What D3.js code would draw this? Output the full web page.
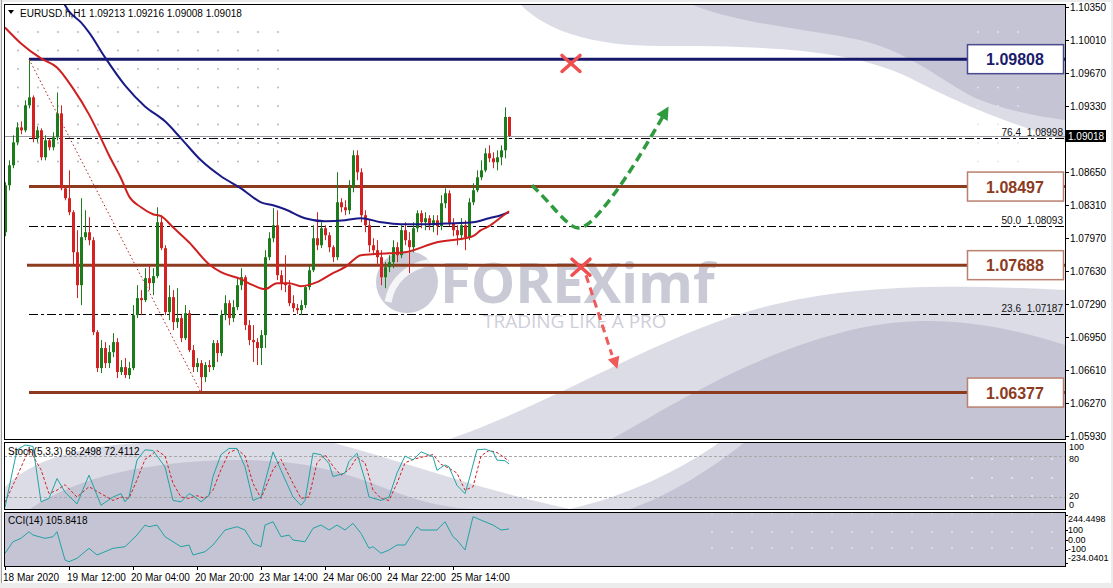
<!DOCTYPE html>
<html><head><meta charset="utf-8">
<script src="https://cdn.jsdelivr.net/npm/d3@7"></script>
<style>body{margin:0;background:#fff;}svg{display:block;font-family:"Liberation Sans",Arial,sans-serif;}</style>
</head><body><svg id="c" width="1113" height="588"></svg>
<script>
// ---------- DATA ----------
const opens = [1.08027,1.08510,1.08716,1.08952,1.09106,1.09076,1.09333,1.09415,1.08993,1.09076,
1.08798,1.08973,1.08901,1.09004,1.09250,1.08479,1.08377,1.08233,1.07821,1.07482,
1.07976,1.08027,1.07945,1.06999,1.06629,1.06835,1.06680,1.06793,1.06896,1.06588,
1.06639,1.06557,1.06629,1.07174,1.07349,1.07328,1.07554,1.07503,1.07575,1.08130,
1.07863,1.07205,1.07359,1.07102,1.07143,1.06937,1.07194,1.06814,1.06639,1.06680,
1.06536,1.06660,1.06639,1.06886,1.06783,1.07174,1.07297,1.07143,1.07256,1.07482,
1.07564,1.07071,1.06917,1.06896,1.06835,1.06968,1.07770,1.07965,1.08099,1.07585,
1.07503,1.07482,1.07297,1.07246,1.07225,1.07277,1.07462,1.07636,1.07965,1.07893,
1.08068,1.07996,1.07873,1.07770,1.08335,1.08284,1.08253,1.08490,1.08819,1.08644,
1.08202,1.08099,1.07893,1.07842,1.07770,1.07564,1.07667,1.07719,1.07873,1.07791,
1.08048,1.07945,1.07873,1.08068,1.08222,1.08130,1.08171,1.08099,1.08150,1.08089,
1.08325,1.08428,1.08120,1.08048,1.07996,1.08099,1.07976,1.08335,1.08459,1.08592,
1.08664,1.08839,1.08788,1.08747,1.08798,1.08870,1.09213];
const closes = [1.08510,1.08716,1.08952,1.09106,1.09076,1.09333,1.09415,1.08993,1.09076,1.08798,
1.08973,1.08901,1.09004,1.09250,1.08479,1.08377,1.08233,1.07821,1.07482,1.07976,
1.08027,1.07945,1.06999,1.06629,1.06835,1.06680,1.06793,1.06896,1.06588,1.06639,
1.06557,1.06629,1.07174,1.07349,1.07328,1.07554,1.07503,1.07575,1.08130,1.07863,
1.07205,1.07359,1.07102,1.07143,1.06937,1.07194,1.06814,1.06639,1.06680,1.06536,
1.06660,1.06639,1.06886,1.06783,1.07174,1.07297,1.07143,1.07256,1.07482,1.07564,
1.07071,1.06917,1.06896,1.06835,1.06968,1.07770,1.07965,1.08099,1.07585,1.07503,
1.07482,1.07297,1.07246,1.07225,1.07277,1.07462,1.07636,1.07965,1.07893,1.08068,
1.07996,1.07873,1.07770,1.08335,1.08284,1.08253,1.08490,1.08819,1.08644,1.08202,
1.08099,1.07893,1.07842,1.07770,1.07564,1.07667,1.07719,1.07873,1.07791,1.08048,
1.07945,1.07873,1.08068,1.08222,1.08130,1.08171,1.08099,1.08150,1.08089,1.08325,
1.08428,1.08120,1.08048,1.07996,1.08099,1.07976,1.08335,1.08459,1.08592,1.08664,
1.08839,1.08788,1.08747,1.08798,1.08870,1.09213,1.09018];
const highs = [1.08541,1.08767,1.09024,1.09158,1.09168,1.09384,1.09808,1.09435,1.09117,1.09096,
1.09024,1.08993,1.09055,1.09466,1.09333,1.08510,1.08664,1.08253,1.08048,1.08377,
1.08253,1.08181,1.07976,1.07020,1.06917,1.06896,1.06865,1.06989,1.06937,1.06711,
1.06732,1.06691,1.07277,1.07482,1.07431,1.07657,1.07688,1.07657,1.08284,1.08202,
1.07893,1.07482,1.07431,1.07451,1.07174,1.07277,1.07225,1.06865,1.06732,1.06711,
1.06691,1.06711,1.06917,1.06917,1.07225,1.07379,1.07328,1.07328,1.07554,1.07657,
1.07585,1.07122,1.07071,1.06937,1.07020,1.07842,1.08027,1.08274,1.08253,1.07636,
1.07791,1.07534,1.07379,1.07287,1.07328,1.07482,1.07688,1.08099,1.08233,1.08130,
1.08099,1.08027,1.07893,1.08644,1.08377,1.08356,1.08562,1.08870,1.08870,1.08685,
1.08253,1.08150,1.07965,1.07945,1.07842,1.07719,1.07791,1.07945,1.07924,1.08099,
1.08130,1.08027,1.08130,1.08253,1.08253,1.08233,1.08202,1.08202,1.08202,1.08407,
1.08479,1.08459,1.08171,1.08099,1.08171,1.08150,1.08377,1.08531,1.08664,1.08767,
1.08891,1.08921,1.08849,1.08870,1.08921,1.09312,1.09216];
const lows = [1.07986,1.08459,1.08685,1.08921,1.09035,1.09055,1.09302,1.08952,1.08952,1.08767,
1.08767,1.08870,1.08870,1.08973,1.08459,1.08356,1.08202,1.07688,1.07349,1.07277,
1.07945,1.07893,1.06968,1.06588,1.06578,1.06629,1.06629,1.06742,1.06526,1.06557,
1.06526,1.06516,1.06608,1.07143,1.07174,1.07307,1.07431,1.07379,1.07554,1.07842,
1.07174,1.07122,1.07020,1.07040,1.06896,1.06917,1.06793,1.06588,1.06588,1.06377,
1.06485,1.06588,1.06608,1.06691,1.06752,1.07122,1.07071,1.07102,1.07225,1.07431,
1.07020,1.06865,1.06691,1.06660,1.06660,1.06835,1.07739,1.07924,1.07534,1.07431,
1.07410,1.07266,1.07205,1.07184,1.07174,1.07246,1.07431,1.07616,1.07842,1.07863,
1.07945,1.07821,1.07719,1.07739,1.08233,1.08202,1.08212,1.08438,1.08562,1.08130,
1.08027,1.07821,1.07791,1.07688,1.07482,1.07451,1.07616,1.07657,1.07719,1.07760,
1.07893,1.07606,1.07821,1.08027,1.08068,1.08048,1.08048,1.08027,1.07996,1.08048,
1.08274,1.08089,1.07986,1.07893,1.07945,1.07842,1.07945,1.08305,1.08438,1.08562,
1.08644,1.08747,1.08685,1.08664,1.08716,1.08788,1.09008];

const maRedBars = [0,4,9,13,17,21,24,26,29,31,34,37,39,42,46,51,54,59,62,65,68,71,74,78,82,85,89,96,100,108,115,117,119,121,124,126];
const maRedValues = [1.10134,1.09970,1.09816,1.09723,1.09507,1.09240,1.08993,1.08819,1.08582,1.08397,1.08284,1.08212,1.08192,1.08078,1.07924,1.07698,1.07616,1.07544,1.07482,1.07441,1.07503,1.07503,1.07472,1.07513,1.07606,1.07667,1.07791,1.07811,1.07821,1.07924,1.07965,1.07986,1.08048,1.08089,1.08181,1.08243];
const maBlueBars = [12,14,16,19,21,25,30,35,40,44,49,54,59,64,67,70,75,80,85,89,94,99,106,112,117,121,124,126];
const maBlueValues = [1.10540,1.10430,1.10300,1.10186,1.10083,1.09826,1.09538,1.09322,1.09168,1.08993,1.08767,1.08603,1.08479,1.08335,1.08305,1.08263,1.08171,1.08140,1.08150,1.08171,1.08130,1.08109,1.08109,1.08120,1.08130,1.08171,1.08202,1.08233];

const stochBars = [0,3,5,7,9,11,13,15,18,21,24,27,29,30,31,33,35,37,40,42,44,46,47,49,51,52,54,56,58,60,62,64,67,69,72,74,75,77,79,81,82,85,86,88,90,91,94,96,98,100,102,104,107,108,110,111,113,115,116,118,120,122,123,125,126];
const stochMain = [5,89,96,94,13,18,47,27,10,52,8,20,25,13,20,74,89,88,64,15,13,25,22,13,22,50,82,91,91,64,15,20,86,59,20,8,15,84,82,69,50,55,72,84,45,20,15,20,55,80,74,86,79,59,67,64,37,25,45,89,90,86,74,73,68.2498];
const signalBars = [0,3,6,9,11,13,15,18,21,24,27,29,31,33,35,38,40,42,44,46,48,50,52,54,56,58,60,62,64,67,69,72,74,76,78,80,82,84,86,88,90,92,94,96,98,100,102,104,107,109,111,113,115,117,119,121,123,125,126];
const stochSignal = [12,50,90,60,25,30,38,20,35,25,15,20,18,45,75,88,80,40,20,18,22,18,30,60,85,90,80,40,18,60,75,40,18,20,70,82,65,52,60,78,70,30,18,15,40,70,75,78,82,68,62,55,30,35,80,88,85,77,72.4112];
const cciBars = [0,2,4,6,7,10,12,13,15,16,18,21,23,25,27,30,33,35,36,38,40,42,44,46,47,50,52,55,58,60,62,64,65,67,69,71,72,75,77,79,81,83,85,87,89,91,92,94,96,98,100,103,104,106,108,110,112,113,115,117,120,122,124,126];
const cciValues = [-138,-22,12,78,45,12,28,78,-205,-222,-188,-88,-155,-122,-88,-72,45,145,128,145,28,-22,-72,-55,-155,-122,-55,95,128,95,-38,-72,145,178,28,45,-5,-22,112,145,95,145,95,162,62,-88,-72,-138,-105,-55,-55,128,95,95,95,178,28,-5,-105,228,178,145,95,105.8418];

const priceTicks = [1.10350,1.10010,1.09670,1.09330,1.08650,1.08310,1.07970,1.07630,1.07290,1.06950,1.06610,1.06270,1.05930];
const timeTickBars = [0,16,32,48,64,80,96,112];
const timeTickLabels = ["18 Mar 2020","19 Mar 12:00","20 Mar 04:00","20 Mar 20:00","23 Mar 14:00","24 Mar 06:00","24 Mar 22:00","25 Mar 14:00"];
const stochTicks = [100,80,20,0];
const stochTickLabels = ["100","80","20","0"];
const stochLevels = [80,20];
const cciTicks = [244.4498,100,0,-100,-234.0401];
const cciTickLabels = ["244.4498","100","0.00","-100","-234.0401"];

const levels = [1.09808,1.08497,1.07688,1.06377];
const levelLabels = ["1.09808","1.08497","1.07688","1.06377"];
const levelStartBar = [6,6,5.5,6];
const fibLevels = [1.08998,1.08093,1.07187];
const fibLabels = ["76.4","50.0","23.6"];
const fibHigh = {bar:6, price:1.09808};
const fibLow = {bar:49, price:1.06377};
const lastPrice = 1.09018;
const headerText = "EURUSD.h,H1  1.09213 1.09216 1.09008 1.09018";
const stochText = "Stoch(5,3,3) 68.2498 72.4112";
const cciText = "CCI(14) 105.8418";

const greenPathBars = [131.75,135,138.25,141.25,143.25,145.75,148.75,151.75,154.75,158,161.25,164.5];
const greenPathPrices = [1.08510,1.08377,1.08222,1.08099,1.08058,1.08099,1.08233,1.08387,1.08562,1.08767,1.08993,1.09219];
const greenTip = [165.9,1.09322];
const redPathBars = [145.25,151.75];
const redPathPrices = [1.07585,1.06763];
const redTip = [153.1,1.06620];
const crossBars = [141.5,144];
const crossPrices = [1.09764,1.07667];

// ---------- LAYOUT / SCALES ----------
const svg = d3.select("#c");
const P = {l:4, r:1065, t:4, b:439};
const SP = {t:442, b:509};
const CP = {t:512, b:566};
const x = d3.scaleLinear().domain([0,265]).range([5,1065]);
const y = d3.scaleLinear().domain([1.0593,1.1035]).range([436,6.5]);
const ys = d3.scaleLinear().domain([0,100]).range([510.7,442.3]);
const yc = d3.scaleLinear().domain([-234.0401,244.4498]).range([562.9,515.1]);
const LIGHT = "#dcdce6", DARK = "#c4c4d4";
const GREEN = "#1c7c1c", RED = "#d42222";

svg.append("rect").attr("width",1113).attr("height",588).attr("fill","#ececec");
svg.append("rect").attr("x",2).attr("y",2).attr("width",1109).attr("height",581).attr("fill","#fff");
svg.append("line").attr("x1",1.5).attr("x2",1.5).attr("y1",0).attr("y2",583).attr("stroke","#a0a0a0");

const defs = svg.append("defs");
defs.append("clipPath").attr("id","cm").append("rect").attr("x",P.l+1).attr("y",P.t+1).attr("width",P.r-P.l-1).attr("height",P.b-P.t-1);
defs.append("clipPath").attr("id","cs").append("rect").attr("x",P.l+1).attr("y",SP.t+1).attr("width",P.r-P.l-1).attr("height",SP.b-SP.t-1);
defs.append("clipPath").attr("id","cc").append("rect").attr("x",P.l+1).attr("y",CP.t+1).attr("width",P.r-P.l-1).attr("height",CP.b-CP.t-1);

// ---------- MAIN PANEL ----------
const gm = svg.append("g").attr("clip-path","url(#cm)");
gm.append("path").attr("d","M520,4 C545,30 590,46 660,46 C760,46 850,48 910,78 C960,104 1010,124 1065,140 L1065,4 Z").attr("fill",LIGHT);
gm.append("path").attr("d","M690,4 C740,24 800,28 860,40 C910,52 940,80 975,98 C1005,110 1035,116 1065,120 L1065,4 Z").attr("fill",DARK);
gm.append("path").attr("d","M450,439 C560,400 660,335 760,308 C850,284 950,284 1065,290 L1065,439 Z").attr("fill",LIGHT);
gm.append("path").attr("d","M612,439 C680,400 760,350 860,328 C920,316 980,318 1065,345 L1065,439 Z").attr("fill",DARK);

// dot pattern
const dotRows = d3.range(8).map(k=>32+18.5*k);
dotRows.forEach(ry=>{
  d3.range(14).forEach(j=>gm.append("circle").attr("cx",18+20*j).attr("cy",ry).attr("r",0.9).attr("fill","#b0b0b8"));
  d3.range(3).forEach(j=>gm.append("circle").attr("cx",978+20*j).attr("cy",ry).attr("r",0.9).attr("fill","#e6e6ee"));
});

// watermark
const wm = gm.append("g");
wm.append("circle").attr("cx",407).attr("cy",282).attr("r",31).attr("fill","#a2a2b8").attr("opacity",0.55);
wm.append("path").attr("d","M388,302 C392,280 408,266 432,262").attr("stroke","#fff").attr("stroke-width",7).attr("fill","none").attr("opacity",0.8);
wm.append("text").attr("x",440).attr("y",303).attr("font-family","'Open Sans',sans-serif").attr("font-weight","bold").attr("font-size",56).attr("fill","#a0a0b6").attr("opacity",0.55).text("FOREXimf");
wm.append("text").attr("x",483).attr("y",328).attr("font-family","'Open Sans',sans-serif").attr("font-size",19).attr("fill","#c4c4d0").attr("opacity",0.8).text("TRADING LIKE A PRO");

// last price line
gm.append("line").attr("x1",P.l).attr("x2",P.r).attr("y1",Math.round(y(lastPrice))+0.5).attr("y2",Math.round(y(lastPrice))+0.5).attr("stroke","#9a9aa0");

// fib lines
fibLevels.forEach(v=>{
  gm.append("line").attr("x1",x(fibHigh.bar)).attr("x2",P.r).attr("y1",Math.round(y(v))+0.5).attr("y2",Math.round(y(v))+0.5)
    .attr("stroke","#000").attr("stroke-dasharray","9,3,3,3");
});
// level lines
levels.forEach((v,k)=>{
  gm.append("line").attr("x1",x(levelStartBar[k])).attr("x2",P.r).attr("y1",y(v)).attr("y2",y(v))
    .attr("stroke",k===0?"#18186a":"#8c3b1e").attr("stroke-width",3);
});

// candles
const bars = d3.range(closes.length).map(i=>({i,o:opens[i],h:highs[i],l:lows[i],c:closes[i]}));
gm.append("g").selectAll("line").data(bars).join("line")
  .attr("x1",d=>Math.round(x(d.i))+0.5).attr("x2",d=>Math.round(x(d.i))+0.5)
  .attr("y1",d=>y(d.h)).attr("y2",d=>y(d.l))
  .attr("stroke",d=>d.c>=d.o?GREEN:RED).attr("stroke-width",1);
gm.append("g").selectAll("rect").data(bars).join("rect")
  .attr("x",d=>Math.round(x(d.i))-1).attr("width",3)
  .attr("y",d=>y(Math.max(d.o,d.c))).attr("height",d=>Math.max(1,Math.abs(y(d.o)-y(d.c))))
  .attr("fill",d=>d.c>=d.o?GREEN:RED);

// moving averages
const ln = d3.line().x(d=>x(d[0])).y(d=>y(d[1])).curve(d3.curveMonotoneX);
gm.append("path").attr("d",ln(d3.zip(maBlueBars,maBlueValues))).attr("fill","none").attr("stroke","#1a1a86").attr("stroke-width",2);
gm.append("path").attr("d",ln(d3.zip(maRedBars,maRedValues))).attr("fill","none").attr("stroke","#cf2020").attr("stroke-width",2);

// fib diagonal
gm.append("line").attr("x1",x(fibHigh.bar)).attr("y1",y(fibHigh.price)).attr("x2",x(fibLow.bar)).attr("y2",y(fibLow.price))
  .attr("stroke","#b02020").attr("stroke-dasharray","1.5,2.5");

// annotations
function arrowHead(g, from, tip, color, size){
  const dx=tip[0]-from[0], dy=tip[1]-from[1], L=Math.hypot(dx,dy), ux=dx/L, uy=dy/L;
  const bx=tip[0]-ux*size, by=tip[1]-uy*size, px=-uy*size*0.5, py=ux*size*0.5;
  g.append("path").attr("d",`M${tip[0]},${tip[1]} L${bx+px},${by+py} L${bx-px},${by-py} Z`).attr("fill",color);
}
const gp = d3.zip(greenPathBars,greenPathPrices);
gm.append("path").attr("d",d3.line().x(d=>x(d[0])).y(d=>y(d[1])).curve(d3.curveBasis)(gp))
  .attr("fill","none").attr("stroke","#2f9b3f").attr("stroke-width",3.5).attr("stroke-dasharray","9,5");
arrowHead(gm,[x(gp[gp.length-2][0]),y(gp[gp.length-2][1])],[x(greenTip[0]),y(greenTip[1])],"#2f9b3f",13);
const rp = d3.zip(redPathBars,redPathPrices);
gm.append("path").attr("d",d3.line().x(d=>x(d[0])).y(d=>y(d[1]))(rp))
  .attr("fill","none").attr("stroke","#ef5a5a").attr("stroke-width",3).attr("stroke-dasharray","8,5");
arrowHead(gm,[x(rp[0][0]),y(rp[0][1])],[x(redTip[0]),y(redTip[1])],"#ef5a5a",12);
crossBars.forEach((b,k)=>{
  const cx=x(b), cy=y(crossPrices[k]);
  [[-9,-8,9,8],[-9,8,9,-8]].forEach(s=>gm.append("line").attr("x1",cx+s[0]).attr("y1",cy+s[1]).attr("x2",cx+s[2]).attr("y2",cy+s[3])
    .attr("stroke","#ef4f4f").attr("stroke-width",3.5).attr("stroke-linecap","round"));
});

// fib texts
fibLevels.forEach((v,k)=>{
  gm.append("text").attr("x",1021).attr("y",y(v)-2).attr("text-anchor","end").attr("font-size",10).attr("fill","#111").text(fibLabels[k]);
  gm.append("text").attr("x",1063).attr("y",y(v)-2).attr("text-anchor","end").attr("font-size",10).attr("fill","#111").text(d3.format(".5f")(v));
});

// level label boxes
levels.forEach((v,k)=>{
  const cy=y(v);
  gm.append("rect").attr("x",967.5).attr("y",cy-14.5).attr("width",96).attr("height",29).attr("fill","#fff")
    .attr("stroke",k===0?"#4a4a8e":"#b98070").attr("stroke-width",1.5);
  gm.append("text").attr("x",1015).attr("y",cy+6).attr("text-anchor","middle").attr("font-size",16).attr("font-weight","bold")
    .attr("fill",k===0?"#1c1c6c":"#8c3b1e").text(levelLabels[k]);
});

// header
svg.append("path").attr("d","M8,10 L14,10 L11,14 Z").attr("fill","#000");
svg.append("text").attr("x",20).attr("y",17).attr("font-size",10).attr("fill","#000").text(headerText);

// ---------- STOCH PANEL ----------
const gs = svg.append("g").attr("clip-path","url(#cs)");
gs.append("path").attr("d","M4,509 L4,488 C30,460 80,446 140,443 L330,442 C400,460 480,490 570,509 Z").attr("fill",LIGHT);
gs.append("path").attr("d","M30,509 C80,475 150,462 230,460 C300,459 340,470 390,490 C420,502 450,508 470,509 Z").attr("fill",DARK);
gs.append("path").attr("d","M720,442 C680,470 630,495 570,509 L1065,509 L1065,442 Z").attr("fill",LIGHT);
gs.append("path").attr("d","M745,442 C710,470 670,495 630,509 L1065,509 L1065,442 Z").attr("fill",DARK);
[459,478,496].forEach(ry=>d3.range(5).forEach(j=>gs.append("circle").attr("cx",972+20*j).attr("cy",ry).attr("r",1).attr("fill","#e8e8f0")));
stochLevels.forEach(v=>gs.append("line").attr("x1",P.l).attr("x2",P.r).attr("y1",Math.round(ys(v))+0.5).attr("y2",Math.round(ys(v))+0.5)
  .attr("stroke","#a8a8a8").attr("stroke-dasharray","3,2"));
const lns = d3.line().x(d=>x(d[0])).y(d=>ys(d[1]));
gs.append("path").attr("d",lns(d3.zip(signalBars,stochSignal))).attr("fill","none").attr("stroke","#d42020").attr("stroke-dasharray","3,2");
gs.append("path").attr("d",lns(d3.zip(stochBars,stochMain))).attr("fill","none").attr("stroke","#22a3a3");
svg.append("text").attr("x",8).attr("y",455).attr("font-size",10).attr("fill","#000").text(stochText);

// ---------- CCI PANEL ----------
const gc = svg.append("g").attr("clip-path","url(#cc)");
gc.append("rect").attr("x",P.l).attr("y",CP.t).attr("width",P.r-P.l).attr("height",CP.b-CP.t).attr("fill",DARK);
[513,532,548].forEach(ry=>d3.range(18).forEach(j=>gc.append("circle").attr("cx",712+20*j).attr("cy",ry).attr("r",1).attr("fill","#e2e2ea")));
const lnc = d3.line().x(d=>x(d[0])).y(d=>yc(d[1]));
gc.append("path").attr("d",lnc(d3.zip(cciBars,cciValues))).attr("fill","none").attr("stroke","#22a3a3");
svg.append("text").attr("x",8).attr("y",524).attr("font-size",10).attr("fill","#000").text(cciText);

// ---------- FRAMES ----------
[[P.t,P.b],[SP.t,SP.b],[CP.t,CP.b]].forEach(([t,b])=>svg.append("rect").attr("x",P.l+0.5).attr("y",t+0.5).attr("width",P.r-P.l).attr("height",b-t)
  .attr("fill","none").attr("stroke","#000"));

// ---------- AXES ----------
const fmt = d3.format(".5f");
priceTicks.forEach(v=>{
  const ty=Math.round(y(v))+0.5;
  svg.append("line").attr("x1",P.r).attr("x2",P.r+4).attr("y1",ty).attr("y2",ty).attr("stroke","#000");
  svg.append("text").attr("x",1070).attr("y",ty+3.5).attr("font-size",10).attr("fill","#000").text(fmt(v));
});
const ly = Math.round(y(lastPrice));
svg.append("rect").attr("x",1066).attr("y",ly-6).attr("width",40).attr("height",12).attr("fill","#000");
svg.append("text").attr("x",1068).attr("y",ly+4).attr("font-size",10).attr("fill","#fff").text(fmt(lastPrice));

const stochLabelY = [446.5,458.5,495.5,504.5];
stochTicks.forEach((v,k)=>{
  svg.append("text").attr("x",1069).attr("y",stochLabelY[k]+3).attr("font-size",9).attr("fill","#000").text(stochTickLabels[k]);
});
const cciLabelY = [518.5,529.5,539.5,548.5,558];
cciTicks.forEach((v,k)=>{
  svg.append("line").attr("x1",P.r).attr("x2",P.r+3).attr("y1",Math.round(yc(v))+0.5).attr("y2",Math.round(yc(v))+0.5).attr("stroke","#000");
  svg.append("text").attr("x",1068).attr("y",cciLabelY[k]+3).attr("font-size",9).attr("fill","#000").text(cciTickLabels[k]);
});
timeTickBars.forEach((b,k)=>{
  const tx=Math.round(x(b))+0.5;
  svg.append("line").attr("x1",tx).attr("x2",tx).attr("y1",CP.b).attr("y2",CP.b+4).attr("stroke","#000");
  svg.append("text").attr("x",x(b)-2).attr("y",581).attr("font-size",10).attr("fill","#000").text(timeTickLabels[k]);
});
</script></body></html>
